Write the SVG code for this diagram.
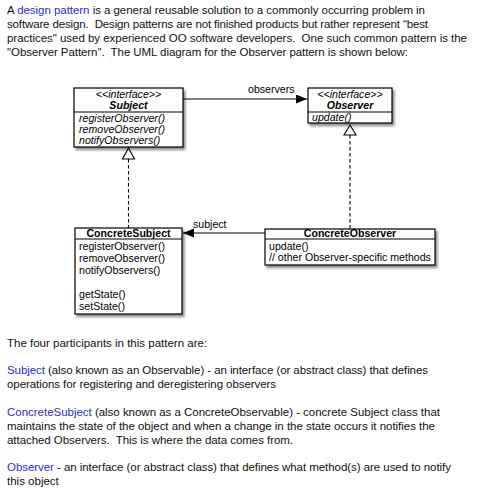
<svg xmlns="http://www.w3.org/2000/svg" width="496" height="496" viewBox="0 0 496 496">
<defs>
<filter id="sh" x="-10%" y="-10%" width="130%" height="130%">
<feDropShadow dx="2" dy="2.5" stdDeviation="1.3" flood-color="#000" flood-opacity="0.45"/>
</filter>
<marker id="filled" markerWidth="12" markerHeight="10" refX="11" refY="4.5" orient="auto" markerUnits="userSpaceOnUse">
<path d="M0,0 L11,4.5 L0,9 Z" fill="#000"/>
</marker>
</defs>
<style>
.p{font-family:"Liberation Sans",Arial,Helvetica,sans-serif;font-size:11.5px;fill:#111;white-space:pre}
.l{fill:#2b2bf0}
.u{font-family:"Liberation Sans",Arial,Helvetica,sans-serif;font-size:10.6px;fill:#000}
.i{font-style:italic}
.b{font-weight:bold}
.m{text-anchor:middle}
.box{fill:#fff;stroke:#000;stroke-width:1.2}
.div{stroke:#000;stroke-width:1.2}
.c{stroke:#000;stroke-width:1.1;fill:none}
.d{stroke-dasharray:3.5,2.5}
.tri{fill:#fff;stroke:#000;stroke-width:1.1}
</style>
<rect width="496" height="496" fill="#fff"/>

<g id="intro">
<text class="p" x="7" y="14" textLength="418" xml:space="preserve">A <tspan class="l">design pattern</tspan> is a general reusable solution to a commonly occurring problem in</text>
<text class="p" x="7" y="28" textLength="421" xml:space="preserve">software design.  Design patterns are not finished products but rather represent “best</text>
<text class="p" x="7" y="42" textLength="460" xml:space="preserve">practices" used by experienced OO software developers.  One such common pattern is the</text>
<text class="p" x="7" y="56" textLength="401" xml:space="preserve">"Observer Pattern".  The UML diagram for the Observer pattern is shown below:</text>
</g>

<g id="connectors">
<line class="c" x1="183" y1="99" x2="307" y2="99" marker-end="url(#filled)"/>
<text class="u" x="248" y="93">observers</text>
<line class="c d" x1="128.5" y1="159" x2="128.5" y2="228"/>
<path class="tri" d="M128.5,148 L134.5,159 L122.5,159 Z"/>
<line class="c d" x1="350" y1="135" x2="350" y2="229"/>
<path class="tri" d="M350,125 L356,135 L344,135 Z"/>
<line class="c" x1="265" y1="233" x2="183" y2="233" marker-end="url(#filled)"/>
<text class="u" x="193" y="228">subject</text>
</g>

<g id="Subject">
<rect class="box" x="74" y="88" width="109" height="59" filter="url(#sh)"/>
<line class="div" x1="74" y1="112" x2="183" y2="112"/>
<text class="u i m" x="128.5" y="98">&lt;&lt;interface&gt;&gt;</text>
<text class="u i b m" x="128.5" y="108.5">Subject</text>
<text class="u i" x="79" y="122">registerObserver()</text>
<text class="u i" x="79" y="133">removeObserver()</text>
<text class="u i" x="79" y="144">notifyObservers()</text>
</g>

<g id="Observer">
<rect class="box" x="308" y="88" width="84" height="35" filter="url(#sh)"/>
<line class="div" x1="308" y1="112" x2="392" y2="112"/>
<text class="u i m" x="350" y="98">&lt;&lt;interface&gt;&gt;</text>
<text class="u i b m" x="350" y="108.5">Observer</text>
<text class="u i" x="312" y="120.5">update()</text>
</g>

<g id="ConcreteSubject">
<rect class="box" x="75" y="228" width="107" height="86" filter="url(#sh)"/>
<line class="div" x1="75" y1="239" x2="182" y2="239"/>
<text class="u b m" x="128.5" y="236.5">ConcreteSubject</text>
<text class="u" x="79" y="249.5">registerObserver()</text>
<text class="u" x="79" y="261.5">removeObserver()</text>
<text class="u" x="79" y="273.5">notifyObservers()</text>
<text class="u" x="79" y="297.5">getState()</text>
<text class="u" x="79" y="309.5">setState()</text>
</g>

<g id="ConcreteObserver">
<rect class="box" x="265" y="229" width="170" height="36" filter="url(#sh)"/>
<line class="div" x1="265" y1="239" x2="435" y2="239"/>
<text class="u b m" x="350" y="237">ConcreteObserver</text>
<text class="u" x="269" y="249.5">update()</text>
<text class="u" x="269" y="261">// other Observer-specific methods</text>
</g>

<g id="participants">
<text class="p" x="7" y="347" xml:space="preserve">The four participants in this pattern are:</text>
<text class="p" x="7" y="374" textLength="421" xml:space="preserve"><tspan class="l">Subject</tspan> (also known as an Observable) - an interface (or abstract class) that defines</text>
<text class="p" x="7" y="387.5" textLength="269" xml:space="preserve">operations for registering and deregistering observers</text>
<text class="p" x="7" y="416" textLength="433" xml:space="preserve"><tspan class="l">ConcreteSubject</tspan> (also known as a ConcreteObservable) - concrete Subject class that</text>
<text class="p" x="7" y="430" textLength="428" xml:space="preserve">maintains the state of the object and when a change in the state occurs it notifies the</text>
<text class="p" x="7" y="443.5" textLength="286" xml:space="preserve">attached Observers.  This is where the data comes from.</text>
<text class="p" x="7" y="471" textLength="444" xml:space="preserve"><tspan class="l">Observer</tspan> - an interface (or abstract class) that defines what method(s) are used to notify</text>
<text class="p" x="7" y="485" xml:space="preserve">this object</text>
</g>
</svg>
